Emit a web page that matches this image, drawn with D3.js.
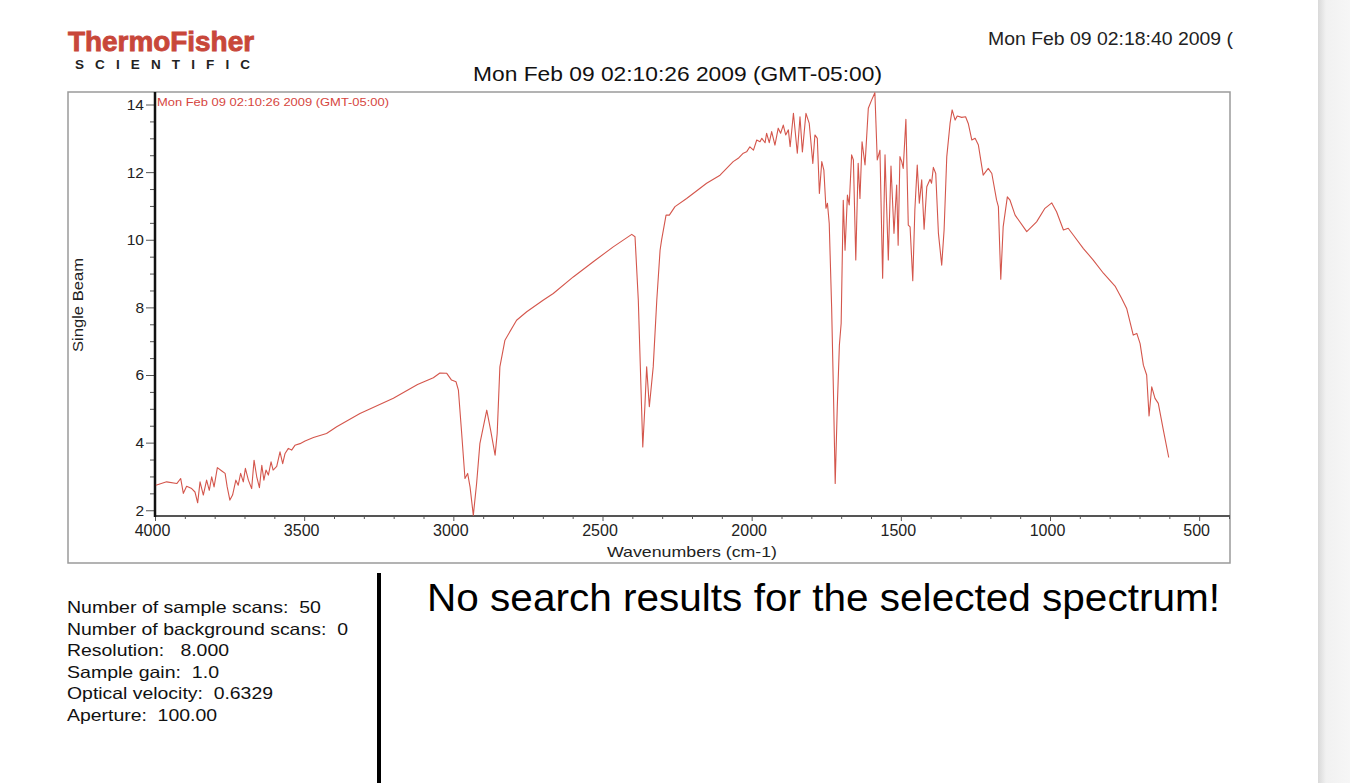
<!DOCTYPE html>
<html>
<head>
<meta charset="utf-8">
<script src="https://cdn.jsdelivr.net/npm/d3@7"></script>
<style>
  html, body { margin: 0; padding: 0; background: #fff; }
  svg { display: block; font-family: "Liberation Sans", Arial, Helvetica, sans-serif; }
  text { white-space: pre; }
</style>
</head>
<body>
<svg id="chart" width="1350" height="783"></svg>
<script>
// ---- data ----
const wavenumbers = [
  3997,3961,3927,3914,3905,3894,3877,3866,3857,3849,3838,3827,3818,3810,3802,3791,3776,3765,3758,3749,
  3740,3729,3721,3713,3704,3697,3687,3676,3668,3659,3650,3642,3635,3628,3620,3611,3604,3592,3581,3572,
  3564,3553,3542,3531,3514,3497,3469,3425,3391,3313,3201,3120,3067,3045,3022,3006,2991,2983,2972,2961,
  2952,2944,2933,2922,2911,2888,2875,2860,2853,2844,2827,2788,2754,2698,2665,2598,2531,2464,2402,2391,
  2380,2365,2358,2352,2343,2330,2318,2307,2302,2287,2276,2257,2218,2151,2106,2062,2045,2028,2017,2006,
  1994,1983,1972,1966,1955,1950,1941,1933,1922,1911,1903,1894,1886,1877,1871,1860,1847,1838,1830,1818,
  1807,1795,1788,1780,1773,1765,1758,1751,1746,1740,1732,1726,1720,1713,1706,1700,1693,1687,1679,1673,
  1665,1659,1651,1643,1637,1630,1620,1609,1598,1587,1579,1570,1561,1553,1542,1533,1523,1514,1509,1503,
  1497,1492,1483,1475,1469,1460,1453,1445,1438,1430,1422,1413,1402,1397,1391,1383,1374,1363,1355,1346,
  1335,1328,1318,1311,1296,1283,1274,1262,1251,1240,1224,1207,1195,1179,1173,1165,1157,1143,1134,1117,
  1078,1045,1017,994,978,955,939,922,888,855,821,782,760,743,721,709,698,687,676,668,
  659,648,637,620,602
];
const singleBeam = [
  2.74,2.84,2.79,2.94,2.50,2.71,2.64,2.54,2.22,2.84,2.45,2.89,2.59,2.99,2.69,3.26,3.16,3.09,2.69,2.30,
  2.45,2.89,2.74,3.09,2.84,3.24,2.89,2.64,3.48,2.99,2.67,3.33,2.89,3.19,3.04,3.43,3.19,3.30,3.73,3.38,
  3.68,3.83,3.78,3.92,3.97,4.05,4.15,4.27,4.47,4.86,5.31,5.72,5.92,6.06,6.05,5.85,5.80,5.55,4.27,2.94,
  3.09,2.69,1.85,2.79,3.97,4.96,4.37,3.63,4.27,6.24,7.03,7.62,7.87,8.22,8.41,8.90,9.35,9.79,10.16,10.09,
  8.22,3.87,5.06,6.24,5.06,6.24,8.22,9.69,9.99,10.73,10.73,10.98,11.22,11.67,11.91,12.31,12.41,12.56,12.60,12.75,
  12.65,12.95,12.90,13.00,12.87,13.15,12.87,13.20,12.80,13.30,13.15,13.39,13.10,13.25,12.75,13.74,12.56,13.64,12.60,13.74,
  13.44,12.26,13.10,13.00,11.37,12.31,12.06,10.93,11.08,10.48,8.02,5.55,2.79,5.06,6.88,7.53,11.17,9.69,11.32,11.03,
  12.51,12.36,9.40,12.26,11.22,12.90,12.21,13.89,14.13,14.35,12.36,12.65,8.86,12.51,9.40,12.18,10.19,11.62,9.84,12.46,
  12.31,12.11,13.56,10.43,10.38,8.79,10.88,12.21,11.08,11.77,10.31,11.57,11.79,11.67,12.14,11.96,10.19,9.25,10.29,12.46,
  13.44,13.84,13.54,13.66,13.62,13.64,13.44,12.95,13.00,12.80,11.91,12.11,11.96,11.17,10.98,8.83,10.38,11.27,11.17,10.73,
  10.24,10.53,10.93,11.09,10.83,10.29,10.34,10.14,9.74,9.40,9.01,8.63,8.27,7.97,7.18,7.23,6.93,6.29,6.00,4.79,
  5.65,5.31,5.16,4.37,3.56
];
const xMajorTicks = [4000, 3500, 3000, 2500, 2000, 1500, 1000, 500];
const yMajorTicks = [2, 4, 6, 8, 10, 12, 14];
const xAxisTitle = "Wavenumbers (cm-1)";
const yAxisTitle = "Single Beam";
const spectrumTitle = "Mon Feb 09 02:10:26 2009 (GMT-05:00)";
const printDate = "Mon Feb 09 02:18:40 2009 (";
const infoLines = [
  "Number of sample scans:  50",
  "Number of background scans:  0",
  "Resolution:   8.000",
  "Sample gain:  1.0",
  "Optical velocity:  0.6329",
  "Aperture:  100.00"
];
const infoWidths = [254, 281, 162, 152, 206, 150];
const searchMessage = "No search results for the selected spectrum!";

// ---- drawing ----
const svg = d3.select("#chart");
const data = wavenumbers.map((w, i) => ({ w, v: singleBeam[i] }));

// right page edge strip
const defs = svg.append("defs");
const grad = defs.append("linearGradient").attr("id", "edge").attr("x1", "0").attr("x2", "1");
grad.append("stop").attr("offset", "0").attr("stop-color", "#d9d9d9");
grad.append("stop").attr("offset", "0.25").attr("stop-color", "#f1f1f1");
grad.append("stop").attr("offset", "1").attr("stop-color", "#f6f6f6");
svg.append("rect").attr("x", 1318).attr("y", 0).attr("width", 32).attr("height", 783).attr("fill", "url(#edge)");

// logo
svg.append("text").attr("x", 68).attr("y", 51)
  .attr("font-size", 28).attr("font-weight", "bold").attr("fill", "#c8473a")
  .attr("stroke", "#c8473a").attr("stroke-width", 0.9)
  .attr("textLength", 186).attr("lengthAdjust", "spacingAndGlyphs")
  .text("ThermoFisher");
svg.append("text").attr("x", 75).attr("y", 69)
  .attr("font-size", 13.5).attr("font-weight", "600").attr("fill", "#222")
  .attr("textLength", 175).attr("lengthAdjust", "spacing")
  .text("SCIENTIFIC");

// headers
svg.append("text").attr("x", 988).attr("y", 45).attr("font-size", 19).attr("fill", "#222")
  .attr("textLength", 245).attr("lengthAdjust", "spacingAndGlyphs").text(printDate);
svg.append("text").attr("x", 473).attr("y", 81).attr("font-size", 21).attr("fill", "#111")
  .attr("textLength", 409).attr("lengthAdjust", "spacingAndGlyphs").text(spectrumTitle);

// frame
svg.append("rect").attr("x", 68).attr("y", 92).attr("width", 1162).attr("height", 471)
  .attr("fill", "none").attr("stroke", "#9a9a9a").attr("stroke-width", 1.5);

// scales
const x = d3.scaleLinear().domain([4000, 400]).range([155, 1229]);
const y = d3.scaleLinear().domain([1.83, 14.37]).range([516, 92]);

// x axis
const xMinor = d3.range(400, 4001, 100).filter(d => d % 500 !== 0);
const gxMinor = svg.append("g").attr("transform", "translate(0,516)")
  .call(d3.axisBottom(x).tickValues(xMinor).tickSize(3).tickFormat(""));
gxMinor.select(".domain").remove();
gxMinor.selectAll("line").attr("stroke", "#555");
const gx = svg.append("g").attr("transform", "translate(0,516)")
  .call(d3.axisBottom(x).tickValues(xMajorTicks).tickSize(5).tickPadding(4).tickFormat(d3.format("d")));
gx.select(".domain").remove();
gx.selectAll("line").attr("stroke", "#555");
gx.selectAll("text").attr("font-size", 16).attr("fill", "#222").attr("dx", -3)
  .style("font-family", "'Liberation Sans', Arial, sans-serif");
svg.append("line").attr("x1", 155).attr("x2", 1230).attr("y1", 516).attr("y2", 516)
  .attr("stroke", "#555").attr("stroke-width", 2);

// y axis
const yMinor = d3.range(2, 14.01, 0.5).filter(d => d % 2 !== 0);
const gyMinor = svg.append("g").attr("transform", "translate(155,0)")
  .call(d3.axisLeft(y).tickValues(yMinor).tickSize(5).tickFormat(""));
gyMinor.select(".domain").remove();
gyMinor.selectAll("line").attr("stroke", "#555");
const gy = svg.append("g").attr("transform", "translate(155,0)")
  .call(d3.axisLeft(y).tickValues(yMajorTicks).tickSize(9).tickPadding(2));
gy.select(".domain").remove();
gy.selectAll("line").attr("stroke", "#555");
gy.selectAll("text").attr("font-size", 15.5).attr("fill", "#222")
  .style("font-family", "'Liberation Sans', Arial, sans-serif");
svg.append("line").attr("x1", 155).attr("x2", 155).attr("y1", 92).attr("y2", 517)
  .attr("stroke", "#111").attr("stroke-width", 2.5);

// axis titles
svg.append("text").attr("x", 692).attr("y", 557).attr("text-anchor", "middle")
  .attr("font-size", 15).attr("fill", "#222")
  .attr("textLength", 170).attr("lengthAdjust", "spacingAndGlyphs").text(xAxisTitle);
svg.append("text").attr("transform", "translate(83,305) rotate(-90)").attr("text-anchor", "middle")
  .attr("font-size", 14).attr("fill", "#222")
  .attr("textLength", 94).attr("lengthAdjust", "spacingAndGlyphs").text(yAxisTitle);

// red annotation
svg.append("text").attr("x", 157).attr("y", 106).attr("font-size", 11.5).attr("fill", "#d6463e")
  .attr("textLength", 232).attr("lengthAdjust", "spacingAndGlyphs").text(spectrumTitle);

// spectrum
const line = d3.line().x(d => x(d.w)).y(d => y(d.v));
svg.append("path").datum(data).attr("d", line)
  .attr("fill", "none").attr("stroke", "#d4564c").attr("stroke-width", 1.1)
  .attr("stroke-linejoin", "round");

// info block
svg.append("g").selectAll("text").data(infoLines).join("text")
  .attr("x", 67).attr("y", (d, i) => 613 + i * 21.5)
  .attr("font-size", 16.5).attr("fill", "#111")
  .attr("textLength", (d, i) => infoWidths[i]).attr("lengthAdjust", "spacingAndGlyphs")
  .text(d => d);

// separator
svg.append("rect").attr("x", 377).attr("y", 573).attr("width", 4).attr("height", 210).attr("fill", "#000");

// message
svg.append("text").attr("x", 427).attr("y", 611).attr("font-size", 39).attr("fill", "#000")
  .attr("textLength", 793).attr("lengthAdjust", "spacingAndGlyphs").text(searchMessage);
</script>
</body>
</html>
